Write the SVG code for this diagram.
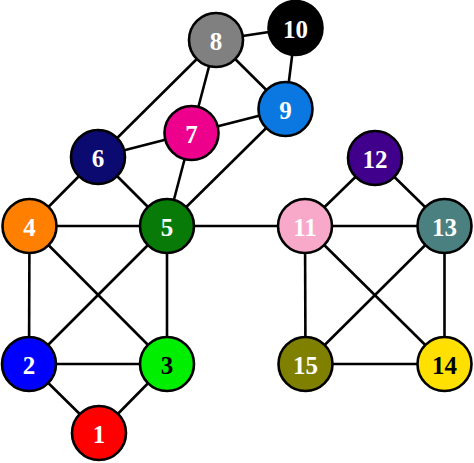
<svg xmlns="http://www.w3.org/2000/svg" width="474" height="463" viewBox="0 0 474 463">
<style>
.e line{stroke:#000;stroke-width:2.6}
.n circle{stroke:#000;stroke-width:2.6}
.n text{font-family:"Liberation Serif","DejaVu Serif",serif;font-weight:bold;font-size:25px;text-anchor:middle;dominant-baseline:central;fill:#fff}
.n text.k{fill:#000}
</style>
<rect width="474" height="463" fill="#fff"/>
<g class="e" id="edges">
<line x1="216" y1="40" x2="295.5" y2="28"/>
<line x1="216" y1="40" x2="285.5" y2="109"/>
<line x1="216" y1="40" x2="191.5" y2="133"/>
<line x1="216" y1="40" x2="98" y2="157"/>
<line x1="295.5" y1="28" x2="285.5" y2="109"/>
<line x1="285.5" y1="109" x2="191.5" y2="133"/>
<line x1="285.5" y1="109" x2="167" y2="226"/>
<line x1="191.5" y1="133" x2="98" y2="157"/>
<line x1="191.5" y1="133" x2="167" y2="226"/>
<line x1="98" y1="157" x2="29.5" y2="226"/>
<line x1="98" y1="157" x2="167" y2="226"/>
<line x1="29.5" y1="226" x2="167" y2="226"/>
<line x1="29.5" y1="226" x2="29" y2="364"/>
<line x1="29.5" y1="226" x2="167" y2="364"/>
<line x1="167" y1="226" x2="29" y2="364"/>
<line x1="167" y1="226" x2="167" y2="364"/>
<line x1="167" y1="226" x2="305" y2="226"/>
<line x1="29" y1="364" x2="167" y2="364"/>
<line x1="29" y1="364" x2="99" y2="433"/>
<line x1="167" y1="364" x2="99" y2="433"/>
<line x1="305" y1="226" x2="375" y2="158"/>
<line x1="305" y1="226" x2="444.5" y2="226"/>
<line x1="305" y1="226" x2="305.5" y2="364"/>
<line x1="305" y1="226" x2="444.5" y2="364"/>
<line x1="375" y1="158" x2="444.5" y2="226"/>
<line x1="444.5" y1="226" x2="305.5" y2="364"/>
<line x1="444.5" y1="226" x2="444.5" y2="364"/>
<line x1="305.5" y1="364" x2="444.5" y2="364"/>
</g>
<g class="n" id="n8"><circle cx="216" cy="40" r="27" fill="#808080"/><text x="216" y="41">8</text></g>
<g class="n" id="n10"><circle cx="295.5" cy="28" r="27" fill="#000"/><text x="295.5" y="29">10</text></g>
<g class="n" id="n9"><circle cx="285.5" cy="109" r="27" fill="#0a78e0"/><text x="285.5" y="110">9</text></g>
<g class="n" id="n7"><circle cx="191.5" cy="133" r="27" fill="#ec008c"/><text x="191.5" y="134">7</text></g>
<g class="n" id="n6"><circle cx="98" cy="157" r="27" fill="#0a0a70"/><text x="98" y="158">6</text></g>
<g class="n" id="n4"><circle cx="29.5" cy="226" r="27" fill="#ff8000"/><text x="29.5" y="227">4</text></g>
<g class="n" id="n5"><circle cx="167" cy="226" r="27" fill="#087a08"/><text x="167" y="227">5</text></g>
<g class="n" id="n11"><circle cx="305" cy="226" r="27" fill="#f8a8c8"/><text x="305" y="227">11</text></g>
<g class="n" id="n12"><circle cx="375" cy="158" r="27" fill="#40008c"/><text x="375" y="159">12</text></g>
<g class="n" id="n13"><circle cx="444.5" cy="226" r="27" fill="#4a8080"/><text x="444.5" y="227">13</text></g>
<g class="n" id="n2"><circle cx="29" cy="364" r="27" fill="#0000ff"/><text x="29" y="365">2</text></g>
<g class="n" id="n3"><circle cx="167" cy="364" r="27" fill="#00ee00"/><text class="k" x="167" y="365">3</text></g>
<g class="n" id="n1"><circle cx="99" cy="433" r="27" fill="#ff0000"/><text x="99" y="434">1</text></g>
<g class="n" id="n15"><circle cx="305.5" cy="364" r="27" fill="#808000"/><text x="305.5" y="365">15</text></g>
<g class="n" id="n14"><circle cx="444.5" cy="364" r="27" fill="#ffe000"/><text class="k" x="444.5" y="365">14</text></g>
</svg>
